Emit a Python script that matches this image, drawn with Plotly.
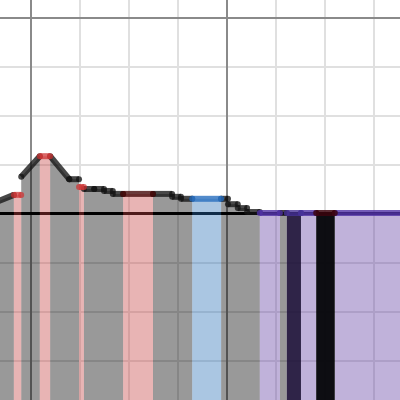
import plotly.graph_objects as go

# --- Data (one entry per band: left/right edge, top at left/right, kind) ---
x_left = [-0.70, -0.35, -0.20, 0.18, 0.39, 0.78, 0.98, 1.08, 1.29, 1.49, 1.67, 1.88, 2.49,
          2.88, 3.06, 3.29, 3.88, 4.02, 4.22, 4.41, 4.67, 5.08, 5.22, 5.51, 5.82, 6.20]
x_right = [-0.35, -0.20, 0.18, 0.39, 0.78, 0.98, 1.08, 1.29, 1.49, 1.67, 1.88, 2.49, 2.88,
           3.06, 3.29, 3.88, 4.02, 4.22, 4.41, 4.67, 5.08, 5.22, 5.51, 5.82, 6.20, 7.60]
top_left = [0.25, 0.39, 0.76, 1.18, 1.18, 0.71, 0.55, 0.51, 0.51, 0.47, 0.41, 0.41, 0.41,
            0.35, 0.31, 0.31, 0.31, 0.20, 0.12, 0.04, 0.02, 0.02, 0.02, 0.02, 0.02, 0.02]
top_right = [0.39, 0.39, 1.18, 1.18, 0.71, 0.71, 0.55, 0.51, 0.51, 0.47, 0.41, 0.41, 0.41,
             0.35, 0.31, 0.31, 0.31, 0.20, 0.12, 0.04, 0.02, 0.02, 0.02, 0.02, 0.02, 0.02]
kinds = ['grey', 'red', 'grey', 'red', 'grey', 'grey', 'red', 'grey', 'grey', 'grey', 'grey',
         'rose', 'grey', 'grey', 'grey', 'blue', 'grey', 'grey', 'grey', 'grey', 'purple',
         'grey', 'indigo', 'purple', 'black', 'purple']

BOTTOM = -5

fill_colors = {
    'grey': 'rgba(0,0,0,0.4)',
    'red': 'rgba(197,67,67,0.4)',
    'rose': 'rgba(197,67,67,0.4)',
    'blue': 'rgba(42,112,182,0.4)',
    'purple': 'rgba(97,62,162,0.4)',
    'indigo': 'rgba(24,12,52,0.9)',
    'black': 'rgba(0,0,5,0.95)',
}
line_colors = {
    'grey': 'rgba(20,20,20,0.78)',
    'red': 'rgba(205,55,55,0.75)',
    'rose': 'rgba(70,10,10,0.8)',
    'blue': 'rgba(40,110,190,0.8)',
    'purple': 'rgba(80,50,165,0.8)',
    'indigo': 'rgba(70,50,150,0.8)',
    'black': 'rgba(60,5,15,0.85)',
}

fig = go.Figure()

# filled bands, one trace per kind (segments split by None)
for kind in fill_colors:
    xs, ys = [], []
    for x0, x1, y0, y1, k in zip(x_left, x_right, top_left, top_right, kinds):
        if k != kind:
            continue
        xs += [x0, x1, x1, x0, x0, None]
        ys += [y0, y1, BOTTOM, BOTTOM, y0, None]
    fig.add_trace(go.Scatter(x=xs, y=ys, mode='lines', fill='toself',
                             fillcolor=fill_colors[kind], line=dict(width=0),
                             hoverinfo='skip', showlegend=False))

# top edges
for kind in line_colors:
    xs, ys = [], []
    for x0, x1, y0, y1, k in zip(x_left, x_right, top_left, top_right, kinds):
        if k != kind:
            continue
        xs += [x0, x1, None]
        ys += [y0, y1, None]
    fig.add_trace(go.Scatter(x=xs, y=ys, mode='lines+markers',
                             line=dict(color=line_colors[kind], width=6),
                             marker=dict(color=line_colors[kind], size=6),
                             hoverinfo='skip', showlegend=False))

axis_style = dict(
    dtick=4, tick0=0, showticklabels=False, ticks='',
    showgrid=True, gridcolor='#8a8a8a', gridwidth=1.5,
    minor=dict(dtick=1, showgrid=True, gridcolor='#e0e0e0', gridwidth=1.5),
    showline=False,
)

fig.update_layout(
    width=400, height=400,
    margin=dict(l=0, r=0, t=0, b=0),
    plot_bgcolor='white', paper_bgcolor='white',
    xaxis=dict(range=[-0.633, 7.531], zeroline=False, **axis_style),
    yaxis=dict(range=[-3.796, 4.367], zeroline=True, zerolinecolor='black',
               zerolinewidth=3, **axis_style),
)

# drop the default page margin so the plot sits at the window corner
fig.write_html("out.html", config={'displayModeBar': False},
               post_script="document.body.style.margin='0';")
